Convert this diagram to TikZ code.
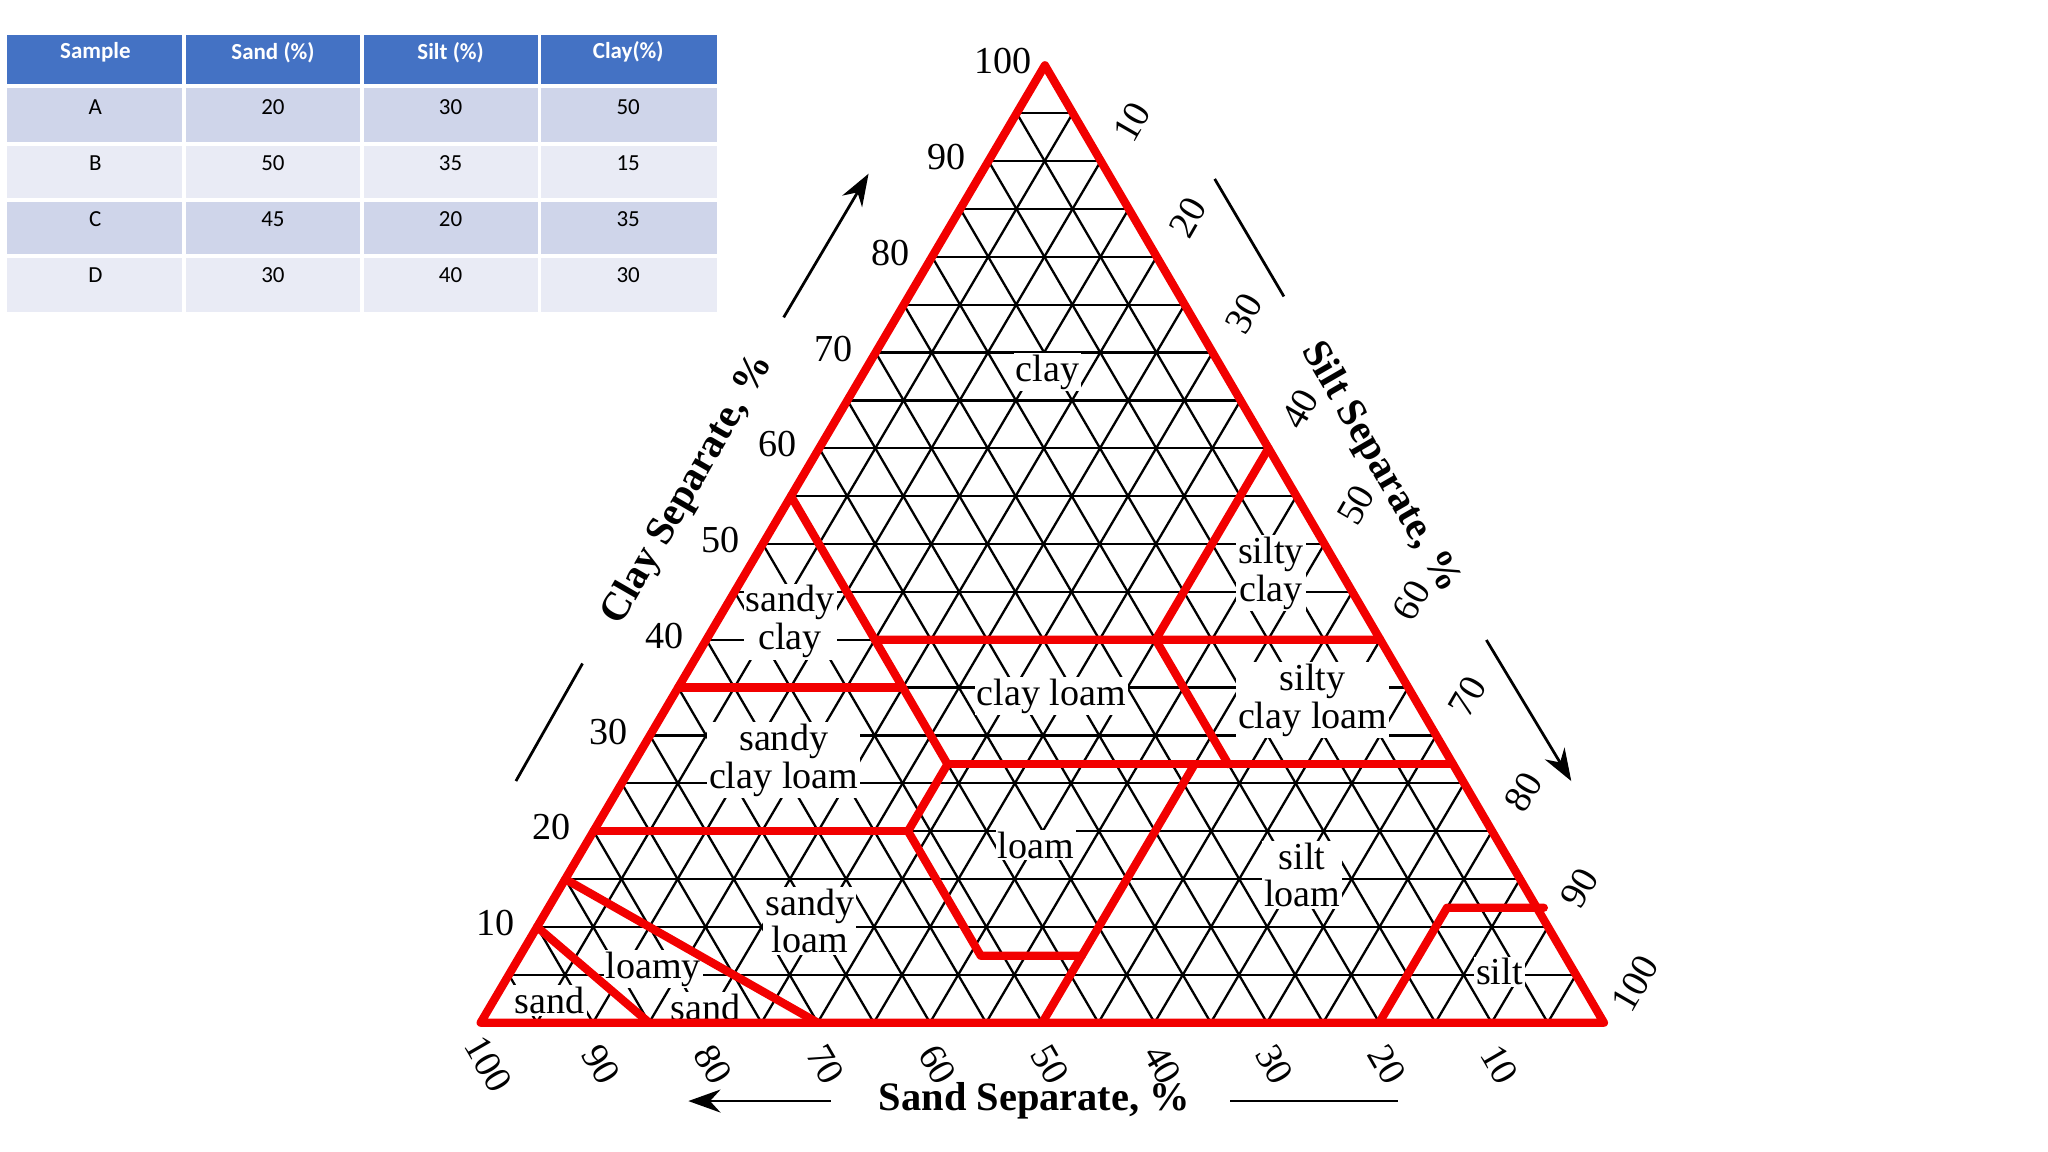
\documentclass[tikz,border=0pt]{standalone}
\usepackage{fontspec}
\setmainfont{Liberation Serif}
\newfontfamily\tabfont{Carlito}
\usetikzlibrary{arrows.meta}
\definecolor{hdr}{HTML}{4472C4}
\definecolor{rowa}{HTML}{CFD5EA}
\definecolor{rowb}{HTML}{E9EBF5}
\definecolor{tred}{HTML}{F20000}
\tikzset{
 grid/.style={black,line width=0.5pt},
 bound/.style={tred,line width=1.8pt,line cap=round,line join=round},
 reg/.style={fill=white,inner sep=0.4pt,font=\fontsize{8.3}{8.2}\selectfont,align=center},
 num/.style={font=\fontsize{8.3}{9}\selectfont,inner sep=0pt},
 ttl/.style={font=\bfseries\fontsize{8.8}{10}\selectfont,inner sep=0pt},
 cell/.style={font=\tabfont\fontsize{5}{6}\selectfont,inner sep=0pt}
}
\begin{document}
\begin{tikzpicture}[x=0.01cm,y=-0.01cm]
\useasboundingbox (0,0) rectangle (1568,882);
% table
\fill[hdr] (5,27) rectangle (549,66);
\fill[rowa] (5,66) rectangle (549,110);
\fill[rowb] (5,110) rectangle (549,153);
\fill[rowa] (5,153) rectangle (549,196);
\fill[rowb] (5,196) rectangle (549,239);
\foreach \x in {141,277,413} \draw[white,line width=0.8pt] (\x,27) -- (\x,239);
\foreach \y in {66,110,153,196} \draw[white,line width=0.8pt] (5,\y) -- (549,\y);
\foreach \t [count=\i] in {Sample,Sand (\%),Silt (\%),Clay(\%)}
  \node[cell,white,font=\tabfont\bfseries\fontsize{5}{6}\selectfont] (h\i) at (73+136*\i-136,40) {\t};
\foreach \a/\b/\c/\d [count=\j] in {A/20/30/50,B/50/35/15,C/45/20/35,D/30/40/30}{
  \node[cell] (ra\j) at (73,82+43*\j-43) {\a};
  \node[cell] (rb\j) at (209,82+43*\j-43) {\b};
  \node[cell] (rc\j) at (345,82+43*\j-43) {\c};
  \node[cell] (rd\j) at (481,82+43*\j-43) {\d};
}
% triangle grid  (A = clay apex, L = sand corner, R = silt corner)
\coordinate (A) at (800,50);
\coordinate (L) at (368,783);
\coordinate (R) at (1228,783);
\foreach \k in {5,10,...,95}{
  \pgfmathsetmacro{\p}{\k/100}
  \pgfmathsetmacro{\q}{1-\k/100}
  \draw[grid] (barycentric cs:A=\p,L=\q,R=0) -- (barycentric cs:A=\p,L=0,R=\q);
  \draw[grid] (barycentric cs:L=\p,A=\q,R=0) -- (barycentric cs:L=\p,A=0,R=\q);
  \draw[grid] (barycentric cs:R=\p,A=\q,L=0) -- (barycentric cs:R=\p,A=0,L=\q);
}
% region labels
\node[reg] (clay) at (802,285) {clay};
\node[reg] (sic) at (973,439) {silty\\clay};
\node[reg] (sc) at (605,476) {sandy\\clay};
\node[reg] (cl) at (805,533) {clay loam};
\node[reg] (sicl) at (1005,536) {silty\\clay loam};
\node[reg] (scl) at (600,582) {sandy\\clay loam};
\node[reg] (loam) at (793,647) {loam};
\node[reg] (sil) at (997,670) {silt\\loam};
\node[reg] (sl) at (620,705) {sandy\\loam};
\node[reg] (ls1) at (500,742) {loamy};
\node[reg] (ls2) at (540,771) {sand};
\node[reg] (sand) at (421,766) {sand};
\node[reg] (silt) at (1148,744) {silt};
% boundaries
\draw[bound] (A) -- (L) -- (R) -- cycle;
\draw[bound] (barycentric cs:A=.55,L=.45,R=0) -- (barycentric cs:A=.35,L=.45,R=.20) -- (barycentric cs:A=.27,L=.45,R=.28) -- (barycentric cs:A=.20,L=.52,R=.28) -- (barycentric cs:A=.07,L=.52,R=.41) -- (barycentric cs:A=.07,L=.43,R=.50);
\draw[bound] (barycentric cs:A=.35,L=.65,R=0) -- (barycentric cs:A=.35,L=.45,R=.20);
\draw[bound] (barycentric cs:A=.40,L=.45,R=.15) -- (barycentric cs:A=.40,L=0,R=.60);
\draw[bound] (barycentric cs:A=.60,L=0,R=.40) -- (barycentric cs:A=.40,L=.20,R=.40) -- (barycentric cs:A=.27,L=.20,R=.53);
\draw[bound] (barycentric cs:A=.27,L=.45,R=.28) -- (barycentric cs:A=.27,L=0,R=.73);
\draw[bound] (barycentric cs:A=.27,L=.23,R=.50) -- (barycentric cs:A=0,L=.50,R=.50);
\draw[bound] (barycentric cs:A=.20,L=.80,R=0) -- (barycentric cs:A=.20,L=.52,R=.28);
\draw[bound] (barycentric cs:A=.10,L=.90,R=0) -- (barycentric cs:A=0,L=.85,R=.15);
\draw[bound] (barycentric cs:A=.15,L=.85,R=0) -- (barycentric cs:A=0,L=.70,R=.30);
\coordinate (siltend) at (1182,695);
\draw[bound] (barycentric cs:A=0,L=.20,R=.80) -- (barycentric cs:A=.12,L=.08,R=.80) -- (siltend);
% axis numbers
\foreach \k in {10,20,...,100}{
  \pgfmathsetmacro{\p}{\k/100}
  \pgfmathsetmacro{\q}{1-\k/100}
  \path (barycentric cs:A=\p,L=\q,R=0) ++(-32,-3) node[num] (cn\k) {\k};
  \path (barycentric cs:A=\q,R=\p,L=0) ++(24,-30) node[num,rotate=60] (sn\k) {\k};
  \path (barycentric cs:L=\p,R=\q,A=0) ++(6,32) node[num,rotate=-60] (dn\k) {\k};
}
% titles and arrows
\node[ttl,rotate=60] (ct) at (527,375) {Clay Separate, \%};
\node[ttl,rotate=-60] (st) at (1057,358) {Silt Separate, \%};
\node[ttl] (dt) at (792,843) {Sand Separate, \%};
\coordinate (ca1) at (600,243); \coordinate (ca2) at (665,133);
\coordinate (cb1) at (395,598); \coordinate (cb2) at (446,508);
\coordinate (sa1) at (1138,490); \coordinate (sa2) at (1203,598);
\coordinate (sb1) at (930,137); \coordinate (sb2) at (983,227);
\coordinate (da1) at (636,843); \coordinate (da2) at (527,843);
\coordinate (db1) at (942,843); \coordinate (db2) at (1070,843);
\draw[-{Stealth[length=7pt,width=5pt]},line width=0.6pt] (ca1) -- (ca2);
\draw[line width=0.6pt] (cb1) -- (cb2);
\draw[-{Stealth[length=7pt,width=5pt]},line width=0.6pt] (sa1) -- (sa2);
\draw[line width=0.6pt] (sb1) -- (sb2);
\draw[-{Stealth[length=7pt,width=5pt]},line width=0.6pt] (da1) -- (da2);
\draw[line width=0.6pt] (db1) -- (db2);
\end{tikzpicture}
\end{document}
